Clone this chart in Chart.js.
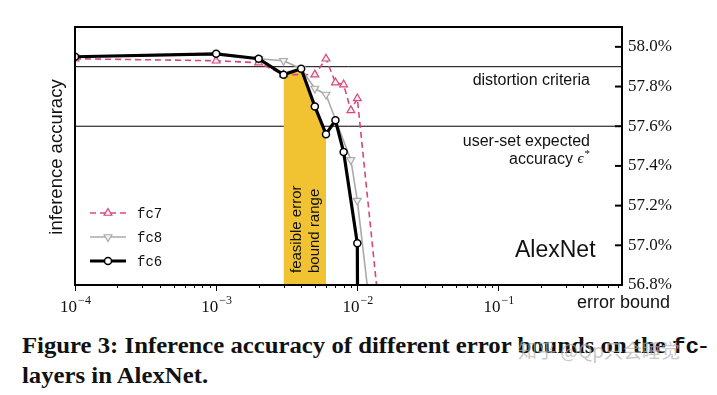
<!DOCTYPE html>
<html>
<head>
<meta charset="utf-8">
<script src="https://cdn.jsdelivr.net/npm/chart.js@4/dist/chart.umd.min.js"></script>
<style>
  body { margin: 0; background: #fff; width: 717px; height: 395px; overflow: hidden; position: relative; }
  #chart { position: absolute; left: 0; top: 0; }
  .cap { position: absolute; left: 22px; font-family: "Liberation Serif", serif; font-weight: bold; font-size: 24px; color: #111; white-space: nowrap; transform-origin: left center; }
  .cap .mono { font-family: "Liberation Mono", monospace; font-size: 22px; }
  #wm { position: absolute; left: 518px; top: 336px; font-family: "Noto Sans CJK SC", sans-serif; font-size: 19px; color: rgba(175,175,175,0.7); white-space: nowrap; }
</style>
</head>
<body>
<canvas id="chart" width="717" height="320"></canvas>
<div class="cap" id="cap1" style="top:332px">Figure 3: Inference accuracy of different error bounds on the <span class="mono">fc</span>-</div>
<div class="cap" id="cap2" style="top:362px">layers in AlexNet.</div>
<div id="wm">知乎 @Qp只会睡觉</div>
<script>
// error bounds (x) and inference accuracy in % (y)
const fc6Bounds = [1e-4, 1e-3, 2e-3, 3e-3, 4e-3, 5e-3, 6e-3, 7e-3, 8e-3, 1e-2, 2e-2]
const fc6Acc    = [57.95, 57.965, 57.94, 57.86, 57.89, 57.70, 57.56, 57.63, 57.47, 57.01, 0.1]
const fc7Bounds = [1e-4, 1e-3, 2e-3, 3e-3, 5e-3, 6e-3, 7e-3, 8e-3, 9e-3, 1e-2, 2e-2]
const fc7Acc    = [57.94, 57.93, 57.92, 57.86, 57.86, 57.94, 57.82, 57.81, 57.68, 57.74, 55.66]
const fc8Bounds = [1e-4, 1e-3, 2e-3, 3e-3, 4e-3, 5e-3, 6e-3, 9e-3, 1e-2, 2e-2]
const fc8Acc    = [57.95, 57.96, 57.94, 57.93, 57.89, 57.79, 57.76, 57.43, 57.225, 55.4]

const distortionCriteria = 57.9
const expectedAccuracy = 57.6
const feasibleRange = [3e-3, 6e-3]

const xMin = 1e-4, xMax = 0.75
const yMin = 56.8, yMax = 58.1
const yTicks = [56.8, 57.0, 57.2, 57.4, 57.6, 57.8, 58.0]
const xTickValues = [1e-4, 1e-3, 1e-2, 1e-1]
const xTickExps = ['\u22124', '\u22123', '\u22122', '\u22121']

const PINK = '#d6487d'
const GRAY = '#aaaaaa'
const YELLOW = '#f1c232'

function pts(xs, ys){
    return xs.map((x, i) => ({x: x, y: ys[i]}))
}

const feasiblePts = pts(fc6Bounds, fc6Acc).filter(p => p.x >= feasibleRange[0] && p.x <= feasibleRange[1])

const legendRows = [
    {label: 'fc7', ds: 2},
    {label: 'fc8', ds: 1},
    {label: 'fc6', ds: 0}
]

const extras = {
    id: 'extras',
    afterDraw(chart){
        const ctx = chart.ctx
        const a = chart.chartArea
        const xs = chart.scales.x, ys = chart.scales.y
        ctx.save()
        // frame
        ctx.strokeStyle = '#000'
        ctx.lineWidth = 2
        ctx.strokeRect(a.left, a.top, a.right - a.left, a.bottom - a.top)
        // x ticks (outward), major at decades
        ctx.lineWidth = 1
        xs.ticks.forEach(t => {
            const v = t.value
            const m = v / Math.pow(10, Math.floor(Math.log10(v) + 1e-9))
            if (Math.abs(m - Math.round(m)) > 1e-6) return
            const px = Math.round(xs.getPixelForValue(v)) + 0.5
            const len = Math.round(m) == 1 ? 6 : 3
            ctx.beginPath(); ctx.moveTo(px, a.bottom); ctx.lineTo(px, a.bottom + len); ctx.stroke()
        })
        // y ticks (inward, right side)
        ctx.lineWidth = 2
        ys.ticks.forEach(t => {
            const py = ys.getPixelForValue(t.value)
            ctx.beginPath(); ctx.moveTo(a.right - 7, py); ctx.lineTo(a.right, py); ctx.stroke()
        })
        // x tick labels 10^n
        ctx.fillStyle = '#111'
        ctx.textBaseline = 'alphabetic'
        xTickValues.forEach((v, i) => {
            const px = xs.getPixelForValue(v)
            ctx.font = '17px "Liberation Serif"'
            const w1 = ctx.measureText('10').width
            ctx.font = '12px "Liberation Serif"'
            const w2 = ctx.measureText(xTickExps[i]).width
            const x0 = px - (w1 + w2) / 2
            ctx.font = '17px "Liberation Serif"'
            ctx.textAlign = 'left'
            ctx.fillText('10', x0, 312)
            ctx.font = '12px "Liberation Serif"'
            ctx.fillText(xTickExps[i], x0 + w1 + 1, 304)
        })
        // axis titles
        ctx.font = '18px "Liberation Sans"'
        ctx.textAlign = 'left'
        ctx.textBaseline = 'middle'
        ctx.fillText('error bound', 577, 303)
        ctx.save()
        ctx.translate(57, 157)
        ctx.rotate(-Math.PI / 2)
        ctx.textAlign = 'center'
        ctx.font = '18.5px "Liberation Sans"'
        ctx.fillText('inference accuracy', 0, 0)
        ctx.restore()
        // annotations
        ctx.font = '16px "Liberation Sans"'
        ctx.textAlign = 'right'
        ctx.fillText('distortion criteria', 590, ys.getPixelForValue(distortionCriteria) + 14)
        const ye = ys.getPixelForValue(expectedAccuracy)
        ctx.fillText('user-set expected', 590, ye + 15)
        ctx.font = 'italic 15px "Liberation Serif"'
        const wEps = ctx.measureText('\u03f5').width
        ctx.font = '11px "Liberation Serif"'
        const wStar = ctx.measureText('*').width
        ctx.textAlign = 'left'
        ctx.fillText('*', 590 - wStar, ye + 28)
        ctx.font = 'italic 15px "Liberation Serif"'
        ctx.fillText('\u03f5', 590 - wStar - wEps - 1, ye + 33)
        ctx.font = '16px "Liberation Sans"'
        ctx.textAlign = 'right'
        ctx.fillText('accuracy ', 590 - wStar - wEps - 1, ye + 33)
        ctx.font = '23px "Liberation Sans"'
        ctx.textAlign = 'left'
        ctx.fillText('AlexNet', 515, 251)
        // feasible range text
        const xc = (xs.getPixelForValue(feasibleRange[0]) + xs.getPixelForValue(feasibleRange[1])) / 2
        ctx.font = '15px "Liberation Sans"'
        ctx.textAlign = 'left'
        ;[['feasible error', -8], ['bound range', 10]].forEach(r => {
            ctx.save()
            ctx.translate(xc + r[1], a.bottom - 12)
            ctx.rotate(-Math.PI / 2)
            ctx.fillText(r[0], 0, 0)
            ctx.restore()
        })
        // legend
        legendRows.forEach((row, i) => {
            const ds = chart.data.datasets[row.ds]
            const ly = 213 + i * 24
            ctx.save()
            ctx.strokeStyle = ds.borderColor
            ctx.lineWidth = ds.borderWidth
            ctx.setLineDash(ds.borderDash || [])
            ctx.beginPath(); ctx.moveTo(90, ly); ctx.lineTo(126, ly); ctx.stroke()
            ctx.restore()
            ctx.save()
            ctx.fillStyle = ds.pointBackgroundColor
            ctx.strokeStyle = ds.borderColor
            ctx.lineWidth = ds.pointBorderWidth
            ctx.setLineDash([])
            Chart.helpers.drawPoint(ctx, {
                pointStyle: ds.pointStyle, rotation: ds.rotation || 0, radius: ds.pointRadius,
                borderWidth: ds.pointBorderWidth
            }, 108, ly)
            ctx.restore()
            ctx.fillStyle = '#111'
            ctx.font = '14px "Liberation Mono"'
            ctx.textAlign = 'left'
            ctx.fillText(row.label, 137, ly + 1)
        })
        ctx.restore()
    }
}

new Chart(document.getElementById('chart').getContext('2d'), {
    type: 'line',
    data: {
        datasets: [
            {
                label: 'fc6', data: pts(fc6Bounds, fc6Acc),
                borderColor: '#000', borderWidth: 3.2,
                pointStyle: 'circle', pointRadius: 3.5, pointBorderWidth: 1.5,
                pointBackgroundColor: '#fff', pointBorderColor: '#000', order: 1
            },
            {
                label: 'fc8', data: pts(fc8Bounds, fc8Acc),
                borderColor: GRAY, borderWidth: 1.6,
                pointStyle: 'triangle', rotation: 180, pointRotation: 180, pointRadius: 4.5, pointBorderWidth: 1.2,
                pointBackgroundColor: '#f2f2f2', pointBorderColor: GRAY, order: 2
            },
            {
                label: 'fc7', data: pts(fc7Bounds, fc7Acc),
                borderColor: PINK, borderWidth: 1.6, borderDash: [6, 4],
                pointStyle: 'triangle', pointRadius: 4.5, pointBorderWidth: 1.2,
                pointBackgroundColor: '#fbeef3', pointBorderColor: PINK, order: 3
            },
            {
                label: 'feasible', data: feasiblePts,
                borderWidth: 0, borderColor: YELLOW, backgroundColor: YELLOW,
                fill: 'start', pointRadius: 0, order: 4
            },
            {
                label: 'criteria', data: [{x: xMin, y: distortionCriteria}, {x: xMax, y: distortionCriteria}],
                borderColor: '#000', borderWidth: 1, pointRadius: 0, order: 5
            },
            {
                label: 'expected', data: [{x: xMin, y: expectedAccuracy}, {x: xMax, y: expectedAccuracy}],
                borderColor: '#000', borderWidth: 1, pointRadius: 0, order: 5
            }
        ]
    },
    options: {
        responsive: false,
        animation: false,
        events: [],
        layout: { padding: { left: 75, top: 27, right: 0, bottom: 0 } },
        plugins: { legend: { display: false }, tooltip: { enabled: false } },
        scales: {
            x: {
                type: 'logarithmic', min: xMin, max: xMax,
                grid: { display: false, drawTicks: false },
                border: { display: false },
                ticks: { display: false, autoSkip: false },
                afterFit: (s) => { s.height = 35 }
            },
            y: {
                type: 'linear', position: 'right', min: yMin, max: yMax,
                grid: { display: false, drawTicks: false },
                border: { display: false },
                afterBuildTicks: (s) => { s.ticks = yTicks.map(v => ({value: v})) },
                ticks: {
                    padding: 6, color: '#111',
                    font: { family: 'Liberation Serif', size: 17 },
                    callback: (v) => Number(v).toFixed(1) + '%'
                },
                afterFit: (s) => { s.width = 95 }
            }
        }
    },
    plugins: [extras]
})

// squeeze the caption lines to the printed width
const capScale = 685 / document.getElementById('cap1').offsetWidth
;['cap1', 'cap2'].forEach(id => {
    document.getElementById(id).style.transform = 'scaleX(' + capScale + ')'
})
</script>
</body>
</html>
